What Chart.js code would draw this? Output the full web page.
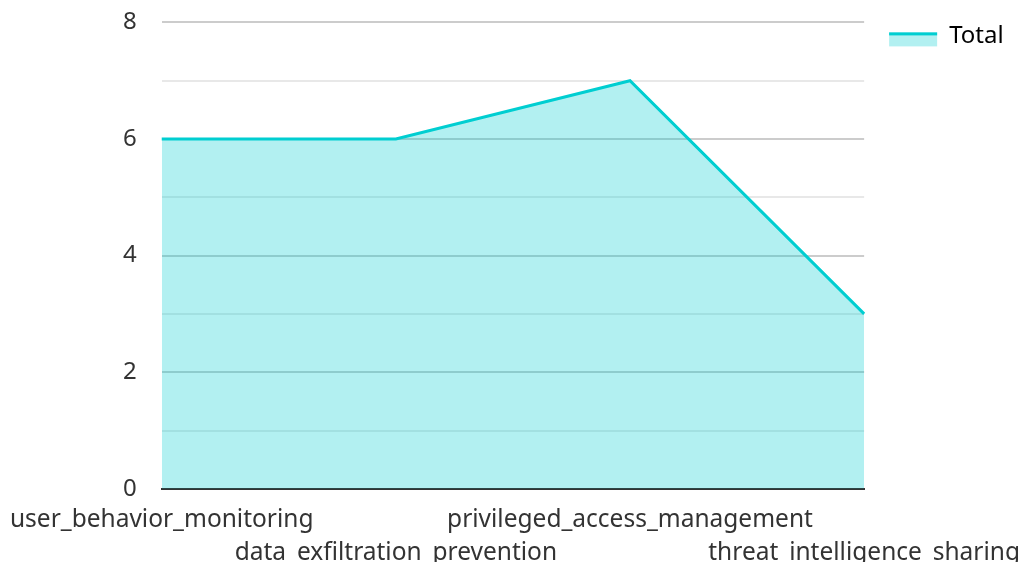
<!DOCTYPE html>
<html>
<head>
<meta charset="utf-8">
<script src="https://cdn.jsdelivr.net/npm/chart.js@4"></script>
<style>
  html, body { margin: 0; padding: 0; background: #fff; }
  #wrap { width: 1022px; height: 562px; }
</style>
</head>
<body>
<div id="wrap"><canvas id="chart"></canvas></div>
<script>
const categories = [
  "user_behavior_monitoring",
  "data_exfiltration_prevention",
  "privileged_access_management",
  "threat_intelligence_sharing"
];
const totals = [6, 6, 7, 3];
const yTickLabels = ["0", "2", "4", "6", "8"];

const lineColor = "#00CED1";
const fillColor = "rgba(0, 206, 209, 0.3)";

// push the legend a bit away from the plot, then draw its box:
// light fill with a thick line across the top
const legendLook = {
  id: "legendLook",
  afterLayout(chart) {
    const lg = chart.legend;
    const w = lg.width, h = lg.height;
    lg.left = chart.chartArea.right + 19;
    lg.right = lg.left + w;
    lg.top = chart.chartArea.top - 4;
    lg.bottom = lg.top + h;
  },
  afterDraw(chart) {
    const lg = chart.legend;
    const ctx = chart.ctx;
    const x = lg.left + 6;
    const y = lg.top + 14;
    ctx.save();
    ctx.fillStyle = fillColor;
    ctx.fillRect(x, y, 48, 14);
    ctx.fillStyle = lineColor;
    ctx.fillRect(x, y, 48, 3);
    ctx.restore();
  }
};

Chart.defaults.font.family = "'Noto Sans', sans-serif";
Chart.defaults.color = "#333";

new Chart(document.getElementById("chart").getContext("2d"), {
  type: "line",
  data: {
    labels: categories,
    datasets: [{
      label: "Total",
      data: totals,
      borderColor: lineColor,
      backgroundColor: fillColor,
      borderWidth: 3,
      fill: "origin",
      pointRadius: 0,
      tension: 0
    }]
  },
  options: {
    responsive: true,
    maintainAspectRatio: false,
    animation: false,
    layout: { padding: { top: 0, bottom: -9, left: 115, right: 0 } },
    plugins: {
      tooltip: { enabled: false },
      legend: {
        position: "right",
        align: "start",
        fullSize: false,
        labels: {
          boxWidth: 48,
          boxHeight: 14,
          padding: 6,
          font: { size: 24 },
          color: "#333",
          generateLabels(chart) {
            return [{
              text: "Total",
              fillStyle: "rgba(0,0,0,0)",
              strokeStyle: "rgba(0,0,0,0)",
              lineWidth: 0,
              datasetIndex: 0
            }];
          }
        }
      }
    },
    scales: {
      x: {
        grid: {
          display: true,
          color: "rgba(0,0,0,0)",
          drawTicks: true,
          tickLength: 13,
          tickColor: "rgba(0,0,0,0)"
        },
        border: { display: true, color: "#333", width: 2 },
        ticks: {
          autoSkip: false,
          maxRotation: 0,
          minRotation: 0,
          padding: 2,
          font: { size: 24.5, lineHeight: 1.33 },
          color: "#333",
          callback(value, index) {
            const name = categories[index];
            return index % 2 === 0 ? name : ["", name];
          }
        }
      },
      y: {
        min: 0,
        max: 8,
        border: { display: false },
        grid: {
          drawTicks: true,
          tickLength: 17,
          tickColor: "rgba(0,0,0,0)",
          color(ctx) {
            if (ctx.tick.value === 0) return "rgba(0,0,0,0)";
            return ctx.tick.value % 2 === 0 ? "#cccccc" : "#e8e8e8";
          },
          lineWidth: 2
        },
        ticks: {
          stepSize: 1,
          padding: 8,
          font: { size: 24 },
          color: "#333",
          callback(value) {
            return yTickLabels.includes(String(value)) ? String(value) : "";
          }
        }
      }
    }
  },
  plugins: [legendLook]
});
</script>
</body>
</html>
